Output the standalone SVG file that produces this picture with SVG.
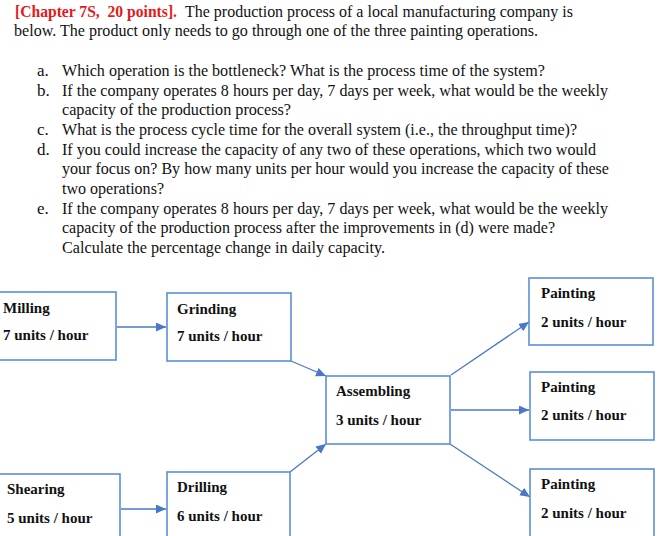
<svg xmlns="http://www.w3.org/2000/svg" width="667" height="536" viewBox="0 0 667 536">
<style>
.t{font-family:"Liberation Serif","Times New Roman",serif;font-size:17px;fill:#111}
.r{font-family:"Liberation Serif","Times New Roman",serif;font-size:17px;fill:#e41a1a;font-weight:bold}
.n{font-family:"Liberation Serif","Times New Roman",serif;font-size:15px;font-weight:bold;fill:#111}
.box{fill:#fff;stroke:#5b8fd6;stroke-width:1.6}
.c{stroke:#4a78c8;stroke-width:1.3;fill:none;marker-end:url(#ah)}
</style>
<defs>
<marker id="ah" markerUnits="userSpaceOnUse" markerWidth="12" markerHeight="10" refX="10" refY="4.5" orient="auto">
<path d="M0,0 L10,4.5 L0,9 Z" fill="#4a78c8"/>
</marker>
</defs>
<rect width="667" height="536" fill="#fff"/>
<g id="question">
<text class="r" x="15" y="17" textLength="162" lengthAdjust="spacingAndGlyphs">[Chapter 7S,&#160; 20 points].</text>
<text class="t" x="185" y="17" textLength="388" lengthAdjust="spacingAndGlyphs">The production process of a local manufacturing company is</text>
<text class="t" x="14" y="36" textLength="524" lengthAdjust="spacingAndGlyphs">below. The product only needs to go through one of the three painting operations.</text>
<text class="t" x="37" y="76">a.</text>
<text class="t" x="62" y="76" textLength="483" lengthAdjust="spacingAndGlyphs">Which operation is the bottleneck? What is the process time of the system?</text>
<text class="t" x="37" y="96">b.</text>
<text class="t" x="62" y="96" textLength="546" lengthAdjust="spacingAndGlyphs">If the company operates 8 hours per day, 7 days per week, what would be the weekly</text>
<text class="t" x="62" y="115" textLength="229" lengthAdjust="spacingAndGlyphs">capacity of the production process?</text>
<text class="t" x="37" y="135">c.</text>
<text class="t" x="62" y="135" textLength="515" lengthAdjust="spacingAndGlyphs">What is the process cycle time for the overall system (i.e., the throughput time)?</text>
<text class="t" x="37" y="155">d.</text>
<text class="t" x="62" y="155" textLength="534" lengthAdjust="spacingAndGlyphs">If you could increase the capacity of any two of these operations, which two would</text>
<text class="t" x="62" y="174" textLength="547" lengthAdjust="spacingAndGlyphs">your focus on? By how many units per hour would you increase the capacity of these</text>
<text class="t" x="62" y="194" textLength="102" lengthAdjust="spacingAndGlyphs">two operations?</text>
<text class="t" x="37" y="214">e.</text>
<text class="t" x="62" y="214" textLength="546" lengthAdjust="spacingAndGlyphs">If the company operates 8 hours per day, 7 days per week, what would be the weekly</text>
<text class="t" x="62" y="233" textLength="493" lengthAdjust="spacingAndGlyphs">capacity of the production process after the improvements in (d) were made?</text>
<text class="t" x="62" y="253" textLength="323" lengthAdjust="spacingAndGlyphs">Calculate the percentage change in daily capacity.</text>
</g>
<g id="connectors">
<line class="c" x1="117" y1="327" x2="166" y2="327"/>
<line class="c" x1="291" y1="361" x2="326" y2="376"/>
<line class="c" x1="121" y1="509" x2="166" y2="509"/>
<line class="c" x1="290" y1="472" x2="326" y2="444"/>
<line class="c" x1="451" y1="375" x2="529" y2="322"/>
<line class="c" x1="451" y1="410" x2="529" y2="410"/>
<line class="c" x1="450" y1="444" x2="530" y2="497"/>
</g>
<g id="milling">
<rect class="box" x="-1" y="292" width="117" height="68"/>
<text class="n" x="3" y="313">Milling</text>
<text class="n" x="3" y="340">7 units / hour</text>
</g>
<g id="grinding">
<rect class="box" x="167" y="293" width="124" height="68"/>
<text class="n" x="177" y="314">Grinding</text>
<text class="n" x="177" y="341">7 units / hour</text>
</g>
<g id="shearing">
<rect class="box" x="-1" y="474" width="121" height="80"/>
<text class="n" x="7" y="494">Shearing</text>
<text class="n" x="7" y="523">5 units / hour</text>
</g>
<g id="drilling">
<rect class="box" x="167" y="472" width="123" height="80"/>
<text class="n" x="177" y="492">Drilling</text>
<text class="n" x="177" y="521">6 units / hour</text>
</g>
<g id="assembling">
<rect class="box" x="326" y="376" width="124" height="68"/>
<text class="n" x="336" y="396">Assembling</text>
<text class="n" x="336" y="425">3 units / hour</text>
</g>
<g id="painting1">
<rect class="box" x="529" y="278" width="124" height="67"/>
<text class="n" x="541" y="298">Painting</text>
<text class="n" x="541" y="327">2 units / hour</text>
</g>
<g id="painting2">
<rect class="box" x="530" y="372" width="124" height="68"/>
<text class="n" x="541" y="392">Painting</text>
<text class="n" x="541" y="420">2 units / hour</text>
</g>
<g id="painting3">
<rect class="box" x="530" y="469" width="124" height="80"/>
<text class="n" x="541" y="489">Painting</text>
<text class="n" x="541" y="518">2 units / hour</text>
</g>
</svg>
